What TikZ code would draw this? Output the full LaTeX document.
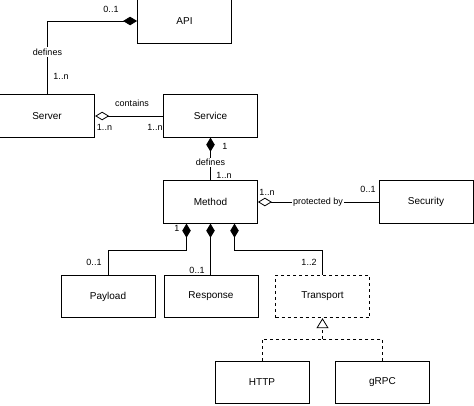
\documentclass[tikz,border=0pt]{standalone}
\usepackage{fontspec}
\setmainfont{Liberation Sans}
\usetikzlibrary{arrows.meta,calc}
\tikzset{
  box/.style={draw, line width=0.8pt, inner sep=0pt, minimum width=94pt, minimum height=42.5pt, font=\fontsize{10}{12}\selectfont},
  dbox/.style={box, dashed},
  conn/.style={line width=0.8pt},
  comp/.style={conn, {Diamond[length=14pt,width=8.5pt]}-},
  aggr/.style={conn, {Diamond[open,length=14pt,width=8.5pt,fill=white]}-},
  real/.style={conn, dashed, -{Triangle[open,length=10pt,width=12pt,fill=white]}},
  lbl/.style={inner sep=0.5pt, font=\fontsize{9}{10}\selectfont},
  wlbl/.style={lbl, fill=white, inner sep=1.2pt}
}
\begin{document}
\begin{tikzpicture}[x=1pt,y=-1pt]
\useasboundingbox (0,0) rectangle (474,405);
\clip (0,0) rectangle (474,405);
% boxes
\node[box, minimum height=45pt] (API) at (184.5,21) {API};
\node[box, minimum width=95.5pt] (Server) at (47,116) {Server};
\node[box] (Service) at (210.5,116) {Service};
\node[box] (Method) at (210.5,202) {Method};
\node[box] (Security) at (426,202) {Security};
\node[box] (Payload) at (108,296.5) {Payload};
\node[box] (Response) at (211,296.5) {Response};
\node[dbox] (Transport) at (322.5,296.5) {Transport};
\node[box] (HTTP) at (262,382.5) {HTTP};
\node[box] (gRPC) at (382.5,382.5) {gRPC};
% connectors
\draw[comp] (API.west) -| (Server.north);
\draw[aggr] (Server.east) -- (Service.west);
\draw[comp] (Service.south) -- (Method.north);
\draw[aggr] (Method.east) -- (Security.west);
\coordinate (m1) at ([xshift=-24pt]Method.south);
\coordinate (m3) at ([xshift=24pt]Method.south);
\draw[comp] (m1) -- ++(0,27) -| (Payload.north);
\draw[comp] (Method.south) -- (Method.south |- Response.north);
\draw[comp] (m3) -- ++(0,27) -| (Transport.north);
\coordinate (j) at (322.5,339);
\draw[conn, dashed] (HTTP.north) |- (j);
\draw[conn, dashed] (gRPC.north) |- (j);
\draw[real] (j) -- (Transport.south);
% labels
\node[lbl] (l1) at (111,9) {0..1};
\node[wlbl] (l2) at (47.5,52) {defines};
\node[lbl] (l3) at (61,76) {1..n};
\node[lbl] (l4) at (132,103) {contains};
\node[lbl] (l5) at (104.5,127) {1..n};
\node[lbl] (l6) at (155,127) {1..n};
\node[lbl] (l7) at (225,146.5) {1};
\node[wlbl] (l8) at (210.5,162) {defines};
\node[lbl] (l9) at (224,175.5) {1..n};
\node[lbl] (l10) at (267,192) {1..n};
\node[lbl] (l11) at (368,189) {0..1};
\node[wlbl] (l12) at (318,202) {protected by};
\node[lbl] (l13) at (177,228) {1};
\node[lbl] (l14) at (94,262) {0..1};
\node[lbl] (l15) at (197,270.5) {0..1};
\node[lbl] (l16) at (309,262) {1..2};
\end{tikzpicture}
\end{document}
